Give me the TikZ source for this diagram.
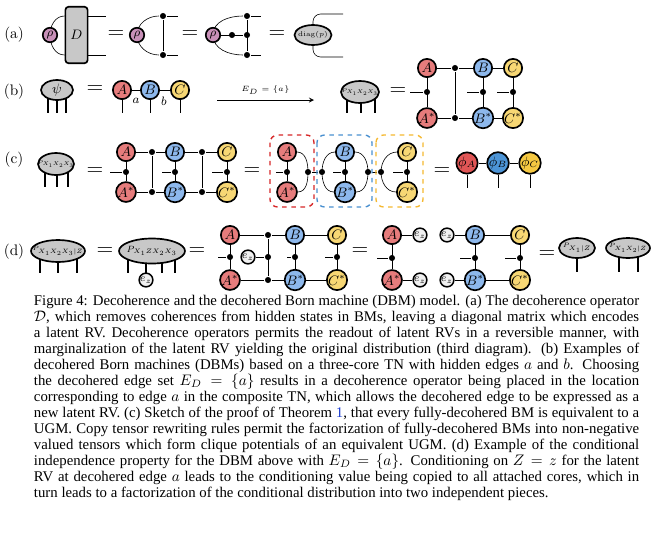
\documentclass[tikz,border=0pt]{standalone}
\usepackage{fontspec}
\newfontfamily\capfont{Liberation Serif}
\usetikzlibrary{backgrounds}
\definecolor{cA}{HTML}{E67C7C}\definecolor{cB}{HTML}{8DB8EC}\definecolor{cC}{HTML}{F7D774}
\definecolor{crho}{HTML}{C890B8}\definecolor{cgr}{HTML}{C8C8C8}
\definecolor{pA}{HTML}{E05555}\definecolor{pB}{HTML}{4C94D6}\definecolor{pC}{HTML}{F5C842}
\definecolor{bR}{HTML}{D62728}\definecolor{bB}{HTML}{4A90D0}\definecolor{bY}{HTML}{F5B830}
\definecolor{lnk}{HTML}{1F3FD0}
\newcommand{\sm}[2]{\scalebox{#1}{#2}}
\newcommand{\capline}[1]{\makebox[397pt][s]{#1}\\}
% \pel{name}{x,y}{rx}{ry}{text}
\newcommand{\pel}[5]{\draw[line width=1.1pt,fill=cgr] (#2) ellipse ({#3} and {#4}); \node[font=\tiny,inner sep=0pt] (#1) at (#2) {#5};}
\begin{document}
\begin{tikzpicture}[x=0.656pt,y=-0.656pt,line width=1.3pt,
 core/.style={circle,draw,line width=1.1pt,minimum size=12pt,inner sep=0pt,font=\small},
 rhon/.style={core,fill=crho,minimum size=9.5pt,font=\footnotesize},
 ez/.style={circle,draw,line width=1pt,fill=black!6,minimum size=9pt,inner sep=0pt,font=\scriptsize},
 dt/.style={circle,fill,inner sep=0pt,minimum size=4pt},
 eq/.style={font=\Large},
 lab/.style={font=\normalsize},
 dbox/.style={dashed,rounded corners=5pt,line width=0.9pt}]
\useasboundingbox (0,0) rectangle (660,542);
% ---------- (a)
\node[lab] (la) at (14,35) {(a)};
\node[rhon] (r1) at (50,35) {$\rho$};
\node[draw,line width=1.1pt,fill=cgr,rounded corners=2pt,minimum width=12.5pt,minimum height=37pt,font=\small] (D) at (76.5,35) {$D$};
\coordinate (a1t) at (86,16); \coordinate (a1b) at (86,55);
\coordinate (a1te) at (106,16); \coordinate (a1be) at (106,55);
\node[eq] (e1) at (116,35) {$=$};
\node[rhon] (r2) at (137,35) {$\rho$};
\node[dt] (a2t) at (163,16) {}; \node[dt] (a2b) at (163,55) {};
\coordinate (a2te) at (178,16); \coordinate (a2be) at (178,55);
\node[eq] (e2) at (190,35) {$=$};
\node[rhon] (r3) at (213,35) {$\rho$};
\node[dt] (a3d) at (232,35) {}; \node[dt] (a3m) at (247,35) {};
\node[dt] (a3t) at (247,16) {}; \node[dt] (a3b) at (247,55) {};
\coordinate (a3te) at (261,16); \coordinate (a3be) at (261,55);
\node[eq] (e3) at (277,35) {$=$};
\coordinate (a4t) at (343,14); \coordinate (a4b) at (343,57);
\begin{scope}[on background layer]
\draw (a1t) -- (a1te); \draw (a1b) -- (a1be);
\draw (D.west|-a1t) to[out=180,in=90] (r1.center) to[out=-90,in=180] (D.west|-a1b);
\draw (a2t) to[out=180,in=90] (r2.center) to[out=-90,in=180] (a2b);
\draw (a2t) -- (a2b) (a2t) -- (a2te) (a2b) -- (a2be);
\draw (a3t) to[out=180,in=90] (r3.center) to[out=-90,in=180] (a3b);
\draw (a3t) -- (a3b) (a3t) -- (a3te) (a3b) -- (a3be) (r3) -- (a3m);
\draw[rounded corners=5pt] (313,35) |- (a4t);
\draw[rounded corners=5pt] (313,35) |- (a4b);
\end{scope}
\pel{dg}{313,35}{18.5}{10}{\sm{0.9}{diag$(p)$}}
% ---------- (b)
\node[lab] (lb) at (14,92) {(b)};
\foreach \x/\n in {48/p1,57/p2,66/p3}{\coordinate (\n) at (\x,113); \draw[on background layer] (\x,95) -- (\n);}
\pel{psi}{57,90}{16}{10}{\small$\psi$}
\node[eq] (e4) at (95,90) {$=$};
\node[core,fill=cA] (bA) at (122,90) {$A$};
\node[core,fill=cB] (bB) at (150,90) {$B$};
\node[core,fill=cC] (bC) at (180,90) {$C$};
\node[font=\footnotesize] (la_) at (136,101) {$a$};
\node[font=\footnotesize] (lb_) at (164,101) {$b$};
\foreach \n in {bA,bB,bC}{\coordinate (\n l) at ([yshift=-23*0.656pt]\n.center);}
\begin{scope}[on background layer]
\draw (bA) -- (bB) -- (bC);
\foreach \n in {bA,bB,bC}{\draw (\n) -- (\n l);}
\end{scope}
\coordinate (ar1) at (217,100); \coordinate (ar2) at (314,100);
\draw[-stealth,line width=0.5pt] (ar1) -- node[above,font=\tiny] {$E_D=\{a\}$} (ar2);
\foreach \x in {347,361,375}{\draw[on background layer] (\x,95) -- (\x,113);}
\pel{pb}{360,92}{19}{11}{\sm{0.72}{$P_{X_1X_2X_3}$}}
\node[eq] (e5) at (398,92) {$=$};
\node[core,fill=cA] (A1) at (427,68) {$A$}; \node[core,fill=cA] (As1) at (427,118) {$A^{*}$};
\node[core,fill=cB] (B1) at (483,68) {$B$}; \node[core,fill=cB] (Bs1) at (483,118) {$B^{*}$};
\node[core,fill=cC] (C1) at (513,68) {$C$}; \node[core,fill=cC] (Cs1) at (513,118) {$C^{*}$};
\node[dt] (v1t) at (455,68) {}; \node[dt] (v1b) at (455,118) {};
\node[dt] (dA1) at (427,92) {}; \node[dt] (dB1) at (483,92) {}; \node[dt] (dC1) at (513,92) {};
\begin{scope}[on background layer]
\draw (A1) -- (v1t) -- (B1) -- (C1); \draw (As1) -- (v1b) -- (Bs1) -- (Cs1);
\draw (v1t) -- (v1b) (A1) -- (As1) (B1) -- (Bs1) (C1) -- (Cs1);
\draw (410,92) -- (dA1); \draw (467,92) -- (dB1); \draw (497,92) -- (dC1);
\end{scope}
% ---------- (c)
\node[lab] (lc) at (14,160) {(c)};
\foreach \x in {45,57,68}{\draw[on background layer] (\x,168) -- (\x,187);}
\pel{pc}{56,164}{18}{11}{\sm{0.72}{$P_{X_1X_2X_3}$}}
\node[eq] (e6) at (95,172) {$=$};
\node[core,fill=cA] (A2) at (126,152) {$A$}; \node[core,fill=cA] (As2) at (126,192) {$A^{*}$};
\node[core,fill=cB] (B2) at (175,152) {$B$}; \node[core,fill=cB] (Bs2) at (175,192) {$B^{*}$};
\node[core,fill=cC] (C2) at (227,152) {$C$}; \node[core,fill=cC] (Cs2) at (227,192) {$C^{*}$};
\node[dt] (v2t) at (152,152) {}; \node[dt] (v2b) at (152,192) {};
\node[dt] (v3t) at (202,152) {}; \node[dt] (v3b) at (202,192) {};
\node[dt] (dA2) at (126,172) {}; \node[dt] (dB2) at (175,172) {}; \node[dt] (dC2) at (227,172) {};
\begin{scope}[on background layer]
\draw (A2) -- (v2t) -- (B2) -- (v3t) -- (C2); \draw (As2) -- (v2b) -- (Bs2) -- (v3b) -- (Cs2);
\draw (v2t) -- (v2b) (v3t) -- (v3b) (A2) -- (As2) (B2) -- (Bs2) (C2) -- (Cs2);
\draw (110,172) -- (dA2); \draw (162,172) -- (dB2); \draw (212,172) -- (dC2);
\end{scope}
\node[eq] (e7) at (252,172) {$=$};
\draw[dbox,bR] (270,135) rectangle (314,207);
\draw[dbox,bB] (317,135) rectangle (372,207);
\draw[dbox,bY] (376,135) rectangle (423,207);
\node[core,fill=cA] (A3) at (287,152) {$A$}; \node[core,fill=cA] (As3) at (287,192) {$A^{*}$};
\node[core,fill=cB] (B3) at (345,152) {$B$}; \node[core,fill=cB] (Bs3) at (345,192) {$B^{*}$};
\node[core,fill=cC] (C3) at (407,152) {$C$}; \node[core,fill=cC] (Cs3) at (407,192) {$C^{*}$};
\node[dt] (dA3) at (287,172) {}; \node[dt] (dB3) at (345,172) {}; \node[dt] (dC3) at (407,172) {};
\node[dt] (j1) at (308,172) {}; \node[dt] (j2) at (322,172) {};
\node[dt] (j3) at (368,172) {}; \node[dt] (j4) at (381,172) {};
\begin{scope}[on background layer]
\draw (A3) -- (As3) (B3) -- (Bs3) (C3) -- (Cs3);
\draw (276,172) -- (dA3); \draw (333,172) -- (dB3); \draw (393,172) -- (dC3);
\draw (A3) to[out=0,in=90] (j1.center) to[out=-90,in=0] (As3);
\draw (B3) to[out=180,in=90] (j2.center) to[out=-90,in=180] (Bs3);
\draw (B3) to[out=0,in=90] (j3.center) to[out=-90,in=0] (Bs3);
\draw (C3) to[out=180,in=90] (j4.center) to[out=-90,in=180] (Cs3);
\draw (j1) -- (j2) (j3) -- (j4);
\end{scope}
\node[eq] (e8) at (442,172) {$=$};
\node[core,fill=pA,minimum size=13pt] (fA) at (467,163) {$\phi_A$};
\node[core,fill=pB,minimum size=13pt] (fB) at (498,163) {$\phi_B$};
\node[core,fill=pC,minimum size=13pt] (fC) at (530,163) {$\phi_C$};
\begin{scope}[on background layer]
\draw (fA) -- (fB) -- (fC);
\foreach \n/\x in {fA/467,fB/498,fC/530}{\draw (\n) -- (\x,188);}
\end{scope}
% ---------- (d)
\node[lab] (ld) at (14,252) {(d)};
\foreach \x in {40,58,77}{\draw[on background layer] (\x,255) -- (\x,273);}
\pel{pd1}{58,251}{27}{11}{\sm{0.82}{$P_{X_1X_2X_3|Z}$}}
\node[eq] (e9) at (105,252) {$=$};
\foreach \x in {128,162,175}{\draw[on background layer] (\x,255) -- (\x,273);}
\draw[on background layer] (146,255) -- (146,276);
\pel{pd2}{152,251}{33}{12.5}{\scriptsize\sm{0.85}{$P_{X_1ZX_2X_3}$}}
\node[ez] (ez0) at (146,280) {$e_z$};
\node[eq] (e10) at (197,252) {$=$};
\node[core,fill=cA] (A4) at (230,235) {$A$}; \node[core,fill=cA] (As4) at (230,280) {$A^{*}$};
\node[core,fill=cB] (B4) at (295,235) {$B$}; \node[core,fill=cB] (Bs4) at (295,280) {$B^{*}$};
\node[core,fill=cC] (C4) at (337,235) {$C$}; \node[core,fill=cC] (Cs4) at (337,280) {$C^{*}$};
\node[dt] (v4t) at (268,235) {}; \node[dt] (v4b) at (268,280) {}; \node[dt] (v4m) at (268,257) {};
\node[ez] (ez1) at (248,257) {$e_z$};
\node[dt] (dA4) at (230,257) {}; \node[dt] (dB4) at (295,257) {}; \node[dt] (dC4) at (337,257) {};
\begin{scope}[on background layer]
\draw (A4) -- (v4t) -- (B4) -- (C4); \draw (As4) -- (v4b) -- (Bs4) -- (Cs4);
\draw (v4t) -- (v4b) (A4) -- (As4) (B4) -- (Bs4) (C4) -- (Cs4) (ez1) -- (v4m);
\draw (218,257) -- (dA4); \draw (287,257) -- (dB4); \draw (325,257) -- (dC4);
\end{scope}
\node[eq] (e11) at (360,252) {$=$};
\node[core,fill=cA] (A5) at (392,235) {$A$}; \node[core,fill=cA] (As5) at (392,280) {$A^{*}$};
\node[ez] (ez2) at (420,235) {$e_z$}; \node[ez] (ez3) at (420,280) {$e_z$};
\node[ez] (ez4) at (447,235) {$e_z$}; \node[ez] (ez5) at (447,280) {$e_z$};
\node[core,fill=cB] (B5) at (475,235) {$B$}; \node[core,fill=cB] (Bs5) at (475,280) {$B^{*}$};
\node[core,fill=cC] (C5) at (520,235) {$C$}; \node[core,fill=cC] (Cs5) at (520,280) {$C^{*}$};
\node[dt] (dA5) at (392,258) {}; \node[dt] (dB5) at (475,258) {}; \node[dt] (dC5) at (520,258) {};
\begin{scope}[on background layer]
\draw (A5) -- (ez2) (As5) -- (ez3) (A5) -- (As5);
\draw (ez4) -- (B5) -- (C5) (ez5) -- (Bs5) -- (Cs5) (B5) -- (Bs5) (C5) -- (Cs5);
\draw (377,258) -- (dA5); \draw (460,258) -- (dB5); \draw (505,258) -- (dC5);
\end{scope}
\node[eq] (e12) at (547,255) {$=$};
\draw[on background layer] (577,250) -- (577,272);
\pel{pd3}{577,248}{18}{10}{\sm{0.85}{$P_{X_1|Z}$}}
\foreach \x in {619,638}{\draw[on background layer] (\x,252) -- (\x,272);}
\pel{pd4}{628,248}{22}{10}{\sm{0.8}{$P_{X_1X_2|Z}$}}
% ---------- caption
\node[anchor=north west,inner sep=0pt] (cap) at (33,294) {\parbox{397pt}{\capfont\fontsize{9.7pt}{10.5pt}\selectfont
\capline{Figure 4: Decoherence and the decohered Born machine (DBM) model. (a) The decoherence operator}
\capline{$\mathcal{D}$, which removes coherences from hidden states in BMs, leaving a diagonal matrix which encodes}
\capline{a latent RV. Decoherence operators permits the readout of latent RVs in a reversible manner, with}
\capline{marginalization of the latent RV yielding the original distribution (third diagram). (b) Examples of}
\capline{decohered Born machines (DBMs) based on a three-core TN with hidden edges $a$ and $b$. Choosing}
\capline{the decohered edge set $E_D=\{a\}$ results in a decoherence operator being placed in the location}
\capline{corresponding to edge $a$ in the composite TN, which allows the decohered edge to be expressed as a}
\capline{new latent RV. (c) Sketch of the proof of Theorem {\color{lnk}1}, that every fully-decohered BM is equivalent to a}
\capline{UGM. Copy tensor rewriting rules permit the factorization of fully-decohered BMs into non-negative}
\capline{valued tensors which form clique potentials of an equivalent UGM. (d) Example of the conditional}
\capline{independence property for the DBM above with $E_D=\{a\}$. Conditioning on $Z=z$ for the latent}
\capline{RV at decohered edge $a$ leads to the conditioning value being copied to all attached cores, which in}
turn leads to a factorization of the conditional distribution into two independent pieces.}};
\end{tikzpicture}
\end{document}
